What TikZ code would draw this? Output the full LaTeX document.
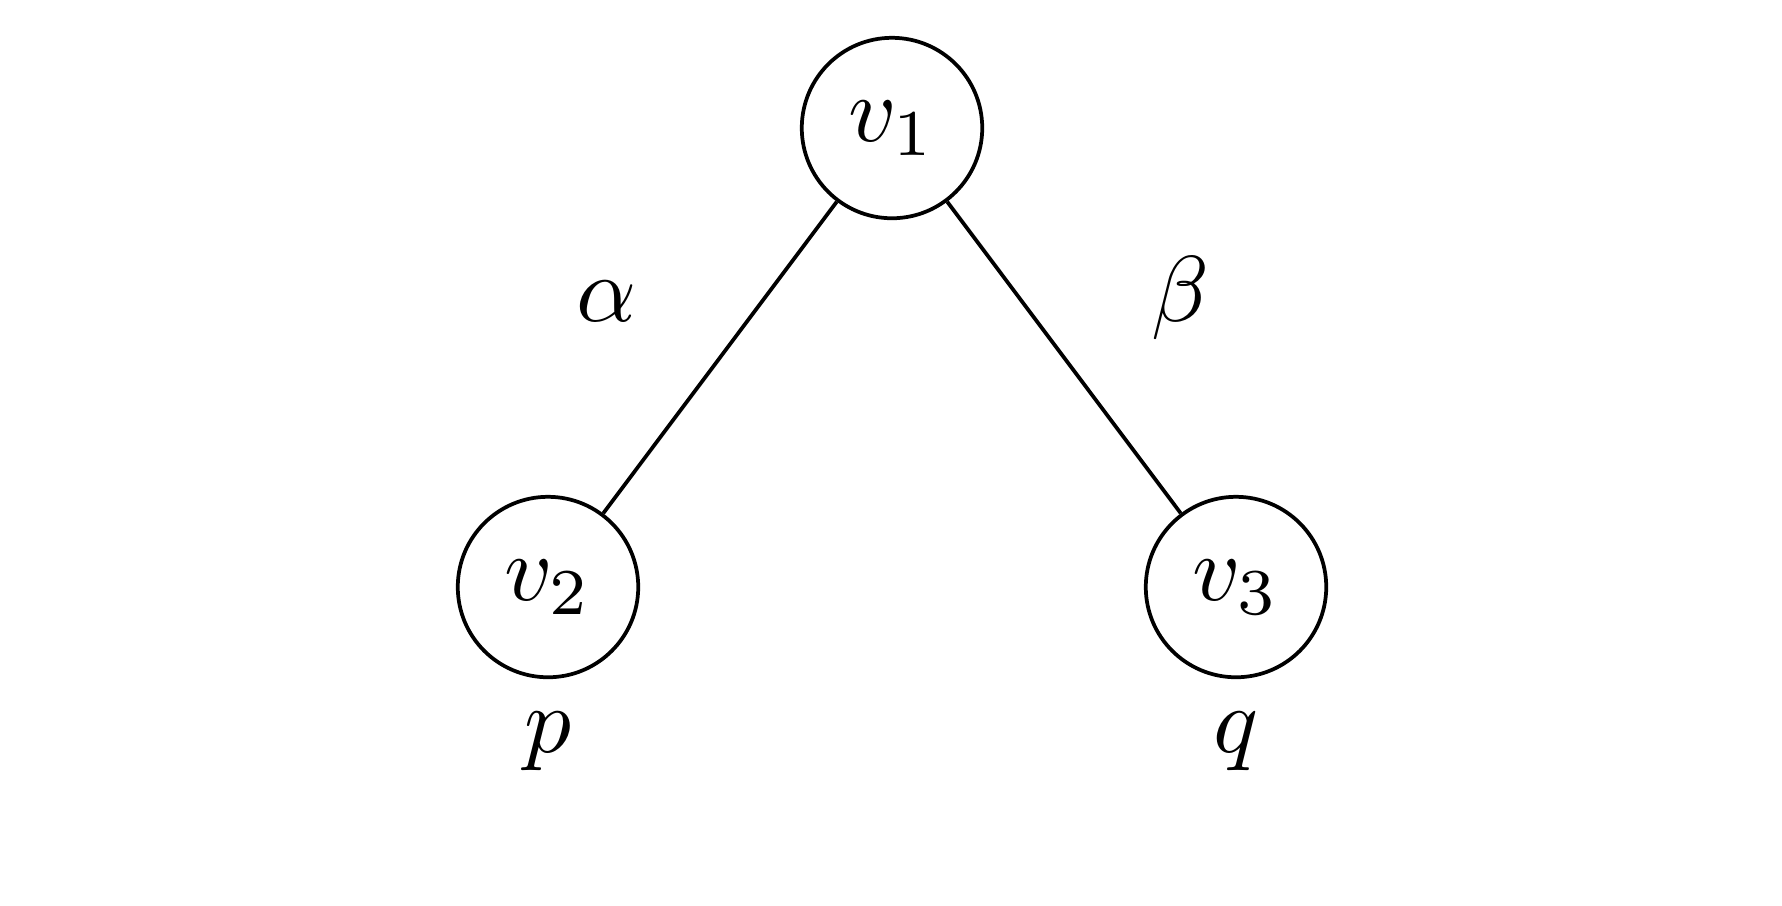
\documentclass[tikz,border=0pt]{standalone}
\begin{document}
\begin{tikzpicture}[x=0.10695pt,y=-0.10695pt,
  vert/.style={circle,draw,line width=0.4pt,minimum size=19.3pt,inner sep=0pt},
  edge/.style={line width=0.4pt}]
\useasboundingbox (0,0) rectangle (1782,905);
\node[vert] (v1) at (892,128) {$v_1$};
\node[vert,label={[name=lp]below:$p$}] (v2) at (548,587) {$v_2$};
\node[vert,label={[name=lq]below:$q$}] (v3) at (1236,587) {$v_3$};
\draw[edge] (v1) -- (v2);
\draw[edge] (v1) -- (v3);
\node[anchor=base] (la) at (607,321) {$\alpha$};
\node[anchor=base] (lb) at (1180,321) {$\beta$};
\end{tikzpicture}
\end{document}
